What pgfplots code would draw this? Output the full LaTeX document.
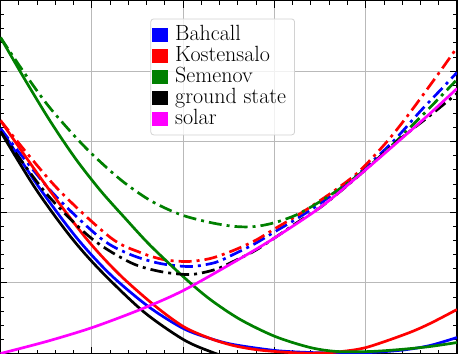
\documentclass[border=0pt]{standalone}
\usepackage{fontspec}
\usepackage{pgfplots}
\pgfplotsset{compat=1.18}
\definecolor{mgreen}{RGB}{0,128,0}
\definecolor{mblue}{RGB}{0,0,255}
\definecolor{mred}{RGB}{255,0,0}
\definecolor{mmag}{RGB}{255,0,255}
\definecolor{mblack}{RGB}{0,0,0}
\begin{document}
\begin{tikzpicture}[x=1pt,y=1pt]
\path[use as bounding box] (0,0) rectangle (474,354);
\begin{axis}[
  at={(0.5pt,0.5pt)}, anchor=south west,
  width=456.5pt, height=353pt, scale only axis,
  xmin=0, xmax=457, ymin=0, ymax=353, y dir=reverse,
  xtick={0,91.4,182.8,274.2,365.6,457},
  ytick={0,70.6,141.2,211.8,282.4,353},
  xticklabels={}, yticklabels={},
  minor x tick num=4, minor y tick num=4,
  tick align=inside, xtick pos=both, ytick pos=both,
  major tick length=7pt, minor tick length=4pt,
  every tick/.style={black, line width=0.9pt},
  axis line style={black, line width=1.3pt},
  grid=major, major grid style={gray!55, line width=1pt},
  legend image code/.code={\fill[#1, sharp corners, fill opacity=1, draw=none] (0pt,-7pt) rectangle (16pt,7pt);},
  legend cell align=left,
  legend style={at={(axis cs:150,18)}, anchor=north west,
    draw=gray!35, line width=0.8pt, rounded corners=3pt, fill=white, fill opacity=0.8, text opacity=1,
    font=\fontsize{22}{22}\selectfont,
    nodes={inner xsep=7.5pt, inner ysep=0.1pt, text height=16pt, text depth=5pt},
    row sep=0pt, inner xsep=1pt, inner ysep=5pt},
  every axis plot/.append style={line width=2.7pt, smooth},
]
\addplot[mblue, forget plot] coordinates {(0,128) (38,186) (76,237) (110,274) (148,306) (183,328) (210,338) (233,344) (275,350) (310,352) (340,352.5) (370,352) (403,349.5) (430,345) (457,337)};
\addplot[mblue, forget plot, dash pattern=on 13pt off 5pt on 3pt off 5pt] coordinates {(0,128) (50,190) (100,237.5) (130,254) (160,263) (190,266) (215,262) (233,254) (255,243) (275,231) (297,218) (320,203) (340,188) (360,172) (393,141) (420,111) (440,90) (457,72)};
\addplot[mred, forget plot] coordinates {(0,120) (42,180) (85,237) (118,273) (153,304) (183,326) (210,338) (233,345) (255,349) (275,351) (300,352.5) (320,352.5) (337,351.5) (366,347) (407,333) (430,323) (457,309)};
\addplot[mred, forget plot, dash pattern=on 13pt off 5pt on 3pt off 5pt] coordinates {(0,120) (55,186) (110,237) (140,252) (163,259) (187,261) (210,258) (233,250) (255,240) (275,228) (297,215) (320,200) (340,186) (360,170) (387,141) (410,112) (440,71) (457,47)};
\addplot[mgreen, forget plot] coordinates {(0,37) (25,80) (50,121) (75,158) (100,190) (125,218) (150,245) (185,278) (210,299) (240,319) (275,336) (310,347) (337,351) (370,351) (400,349) (430,346) (457,342)};
\addplot[mgreen, forget plot, dash pattern=on 13pt off 5pt on 3pt off 5pt] coordinates {(0,37) (25,74) (50,108) (85,147) (120,179) (150,200) (180,214) (210,222) (235,226) (255,226) (275,222) (297,214) (320,201) (340,188) (360,173) (380,156) (400,137) (430,107) (457,79)};
\addplot[mblack, forget plot] coordinates {(0,131) (35,188) (70,236) (100,270) (143,311) (183,339) (210,351) (227,356) (260,360) (300,362) (350,362) (400,360) (457,358)};
\addplot[mblack, forget plot, dash pattern=on 13pt off 5pt on 3pt off 5pt] coordinates {(0,131) (45,192) (90,237) (130,262) (160,271) (190,274) (215,269) (233,261) (255,250) (275,237) (297,222) (320,207) (340,191) (360,174) (397,141) (430,115) (457,93)};
\addplot[mmag, forget plot] coordinates {(0,353) (46,341) (92,327) (140,309) (183,290) (240,258) (275,237) (320,207) (360,174) (397,142) (430,113) (457,88)};
\addlegendimage{mblue}
\addlegendentry{Bahcall}
\addlegendimage{mred}
\addlegendentry{Kostensalo}
\addlegendimage{mgreen}
\addlegendentry{Semenov}
\addlegendimage{mblack}
\addlegendentry{ground state}
\addlegendimage{mmag}
\addlegendentry{solar}
\end{axis}
\end{tikzpicture}
\end{document}
